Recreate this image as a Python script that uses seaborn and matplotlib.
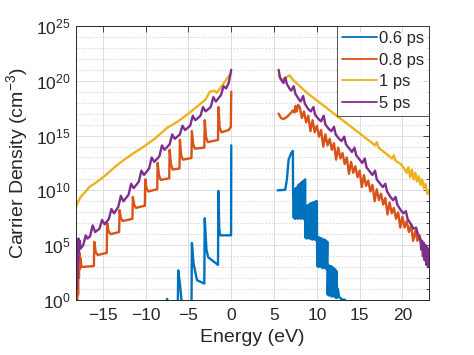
import numpy as np
import pandas as pd
import matplotlib
matplotlib.use("Agg")
import matplotlib.pyplot as plt
import seaborn as sns
from matplotlib.ticker import FixedLocator, NullFormatter

# delays and MATLAB-like colours
delays = ["0.6 ps", "0.8 ps", "1 ps", "5 ps"]
colors = ["#0072BD", "#D95319", "#EDB120", "#7E2F8E"]

# values: energy (eV) and log10 of carrier density (cm^-3)
blue_left_x = [-7.6, -7.5, -7.4, -6.25, -6.2, -6.0, -5.7, -4.65, -4.6, -4.4, -4.0, -3.15,
               -3.1, -2.9, -2.7, -1.55, -1.5, -1.4, -1.3, -0.02, 0.0]
blue_left_log = [-1, 0.1, -1, -1, 2.7, 1.5, -1, -1, 5.2, 3.3, 1.8, 1.5,
                 7.45, 4.6, 3.9, 3.2, 9.95, 6.5, 5.9, 5.9, 14.1]

blue_right_x = [5.42, 6.3, 6.5, 6.7, 7.0, 7.2, 7.22,
                7.3, 7.38, 7.46, 7.54, 7.62, 7.7, 7.78, 7.86, 7.94, 8.02, 8.1, 8.18, 8.26, 8.34, 8.42, 8.5, 8.58, 8.62,
                8.66, 8.74, 8.82, 8.9, 8.98, 9.06, 9.14, 9.22, 9.3, 9.38, 9.46, 9.54, 9.62, 9.7, 9.78, 9.86, 9.94, 10.0,
                10.04, 10.12, 10.2, 10.28, 10.36, 10.44, 10.52, 10.6, 10.68, 10.76, 10.84, 10.92, 11.0, 11.08, 11.16, 11.22,
                11.26, 11.34, 11.42, 11.5, 11.58, 11.66, 11.74, 11.82, 11.9, 11.98, 12.06, 12.14, 12.22, 12.3, 12.38,
                12.45, 12.6, 12.9, 13.3, 13.4]
blue_right_log = [10.0, 10.05, 11.0, 12.8, 13.4, 13.6, 10.0,
                  7.5, 10.1, 7.4, 10.2, 7.5, 10.3, 7.4, 10.5, 7.5, 10.6, 7.4, 10.7, 7.5, 10.8, 7.4, 10.9, 7.3, 11.0,
                  5.7, 8.6, 5.6, 8.6, 5.7, 8.7, 5.6, 8.8, 5.6, 8.8, 5.5, 8.9, 5.6, 8.9, 5.5, 9.0, 5.5, 9.0,
                  3.1, 5.7, 3.0, 5.7, 3.1, 5.6, 3.0, 5.6, 2.9, 5.5, 3.0, 5.5, 2.9, 5.4, 2.8, 5.3,
                  0.5, 3.2, 0.4, 3.1, 0.5, 3.1, 0.3, 3.0, 0.4, 2.9, 0.3, 2.8, 0.2, 2.6, 0.2,
                  1.0, 0.3, 0.05, 0.02, -1]

orange_left_x = [-18.0, -17.95, -17.9, -17.85, -17.8, -17.75, -17.7, -17.6, -17.5, -16.05,
                 -16.0, -15.85, -15.6, -14.55,
                 -14.5, -14.35, -14.1, -13.1,
                 -13.05, -12.9, -12.7, -11.55,
                 -11.5, -11.35, -11.15, -10.1,
                 -10.05, -9.9, -9.7, -8.65,
                 -8.6, -8.45, -8.25, -7.25,
                 -7.2, -7.05, -6.85, -6.05,
                 -6.0, -5.85, -5.65, -4.65,
                 -4.6, -4.45, -4.25, -3.15,
                 -3.1, -2.95, -2.75, -1.55,
                 -1.5, -1.35, -1.15, -0.3, -0.05, 0.0]
orange_left_log = [-1, 3.5, 0.5, 4.0, 2.0, 4.3, 2.8, 3.8, 3.0, 3.1,
                   5.3, 4.4, 4.1, 4.3,
                   7.0, 6.3, 6.0, 6.2,
                   8.2, 7.5, 7.2, 7.4,
                   9.4, 8.7, 8.4, 8.6,
                   11.0, 10.2, 9.9, 10.1,
                   12.5, 11.4, 10.95, 11.1,
                   13.7, 12.4, 11.9, 12.0,
                   14.6, 13.2, 12.8, 12.95,
                   15.4, 14.2, 13.8, 13.9,
                   16.4, 14.9, 14.4, 14.6,
                   17.6, 15.7, 15.3, 15.5, 15.8, 19.0]

orange_right_x = [5.53, 5.8, 6.1, 6.5, 6.9, 7.2, 7.4, 7.5, 7.65, 7.8,
                  8.0, 8.25, 8.5, 8.75, 9.0, 9.25, 9.5, 9.75, 10.0, 10.25, 10.5, 10.75,
                  11.0, 11.25, 11.5, 11.75, 12.0, 12.25, 12.5, 12.75, 13.0, 13.25, 13.5, 13.75,
                  14.0, 14.25, 14.5, 14.75, 15.0, 15.25, 15.5, 15.75, 16.0, 16.25, 16.5, 16.75,
                  17.0, 17.25, 17.5, 17.75, 18.0, 18.25, 18.5, 18.75, 19.0, 19.25, 19.5, 19.75,
                  20.0, 20.25, 20.5, 20.75, 21.0, 21.25, 21.5, 21.75, 22.0, 22.25, 22.5]
orange_right_log = [17.0, 16.6, 16.5, 16.7, 17.0, 17.3, 17.1, 17.7, 17.2, 17.8,
                    17.6, 16.6, 17.2, 16.2, 16.8, 15.4, 16.4, 15.3, 15.9, 14.9, 15.5, 14.0,
                    15.1, 14.1, 14.7, 13.7, 14.3, 12.8, 13.9, 12.9, 13.4, 12.4, 13.0, 11.5,
                    12.6, 11.6, 12.2, 11.2, 11.8, 10.3, 11.4, 10.4, 10.9, 9.9, 10.5, 9.0,
                    10.1, 9.1, 9.7, 8.7, 9.3, 7.8, 8.9, 7.9, 8.4, 7.4, 8.0, 6.6,
                    7.6, 6.6, 7.2, 6.2, 6.8, 5.4, 6.3, 5.4, 5.9, 5.0, 5.2]

yellow_left_x = [-18.2, -18.0, -17.6, -17.0, -16.6, -16.0, -15.3, -14.5, -13.5, -12.5, -11.4,
                 -10.2, -8.8, -7.5, -6.2, -5.0, -3.6, -3.0, -2.5, -2.0, -1.7, -1.2, -0.5, 0.0]
yellow_left_log = [8.2, 8.8, 9.4, 9.9, 10.3, 10.6, 11.0, 11.5, 12.2, 12.8, 13.4,
                   14.0, 14.8, 15.7, 16.3, 17.0, 17.9, 18.3, 19.0, 19.1, 18.9, 19.4, 20.2, 20.7]

yellow_right_x = [5.53, 5.8, 6.3, 6.8, 7.2, 8.0, 9.0, 10.0, 11.0, 12.0, 13.0, 14.0, 15.0, 16.0,
                  16.8, 17.0, 17.2, 18.0, 18.8, 19.0, 19.2, 19.8, 20.2, 20.5, 20.7, 20.9, 21.1,
                  21.3, 21.5, 21.7, 21.9, 22.1, 22.3, 22.5, 22.7, 22.9, 23.1, 23.3]
yellow_right_log = [20.5, 20.1, 20.2, 20.5, 20.1, 19.5, 18.8, 18.2, 17.6, 17.0, 16.4, 15.8, 15.2, 14.6,
                    14.1, 14.4, 13.9, 13.4, 12.9, 13.2, 12.7, 12.4, 12.0, 11.6, 12.1, 11.2, 11.9,
                    11.0, 11.6, 10.8, 11.3, 10.5, 11.0, 10.2, 10.6, 9.7, 10.0, 9.1]

purple_left_x = [-18.2, -18.15, -18.1, -18.05, -18.0, -17.95, -17.9, -17.85, -17.8, -17.7, -17.6,
                 -17.3, -17.0, -16.8, -16.5, -16.2, -15.9, -15.4, -15.1, -14.8, -14.3, -14.0, -13.7,
                 -13.2, -12.9, -12.6, -12.0, -11.7, -11.4, -10.8, -10.5, -10.2, -9.6, -9.3, -9.0,
                 -8.4, -8.1, -7.8, -7.2, -6.9, -6.6, -6.0, -5.7, -5.4, -4.8, -4.5, -4.2,
                 -3.6, -3.3, -3.0, -2.4, -2.1, -1.8, -1.2, -0.9, -0.6, -0.3, 0.0]
purple_left_log = [-1, 4.5, 1.0, 5.2, 2.0, 5.5, 3.5, 5.6, 4.4, 5.4, 4.7,
                   5.0, 5.9, 5.6, 5.8, 6.8, 6.2, 6.5, 7.3, 6.9, 7.4, 8.3, 7.9,
                   8.5, 9.5, 9.0, 9.6, 10.6, 10.2, 10.8, 11.8, 11.4, 12.0, 13.0, 12.6,
                   13.1, 14.1, 13.7, 14.2, 15.1, 14.7, 15.1, 15.9, 15.5, 15.9, 16.8, 16.4,
                   16.8, 17.6, 17.2, 17.6, 18.5, 18.1, 18.7, 19.5, 19.3, 19.8, 21.0]

purple_right_x = [5.53, 5.7, 5.9, 6.1, 6.3, 6.5, 6.8, 7.0, 7.3, 7.5, 7.9, 8.1, 8.4, 8.6, 9.0, 9.3,
                  9.6, 9.8, 10.2, 10.5, 10.8, 11.0, 11.4, 11.7, 12.0, 12.2, 12.6, 12.9, 13.2, 13.4,
                  13.8, 14.1, 14.4, 14.6, 15.0, 15.3, 15.6, 15.8, 16.2, 16.5, 16.8, 17.0, 17.4, 17.7,
                  18.0, 18.2, 18.6, 18.9, 19.2, 19.4, 19.8, 20.1, 20.4, 20.6, 21.0, 21.3, 21.6, 21.8,
                  22.1, 22.2, 22.3, 22.4, 22.5, 22.6, 22.7, 22.8, 22.9, 23.0, 23.1, 23.2, 23.3]
purple_right_log = [21.0, 20.3, 20.0, 19.8, 20.3, 19.7, 19.3, 19.1, 19.5, 18.8, 18.3, 18.1, 18.6, 17.9, 17.4, 17.2,
                    17.6, 16.9, 16.5, 16.3, 16.8, 16.0, 15.6, 15.4, 15.8, 15.1, 14.7, 14.5, 14.9, 14.2,
                    13.8, 13.5, 13.9, 13.2, 12.8, 12.5, 12.9, 12.1, 11.7, 11.4, 11.8, 11.0, 10.6, 10.3,
                    10.6, 9.9, 9.4, 9.1, 9.4, 8.7, 8.2, 7.9, 8.1, 7.4, 6.9, 6.5, 6.6, 6.0,
                    5.5, 4.6, 5.4, 4.0, 5.2, 3.6, 5.0, 3.2, 4.8, 3.0, 4.5, 3.2, 4.3]

series = [
    ("0.6 ps", "left", blue_left_x, blue_left_log),
    ("0.6 ps", "right", blue_right_x, blue_right_log),
    ("0.8 ps", "left", orange_left_x, orange_left_log),
    ("0.8 ps", "right", orange_right_x, orange_right_log),
    ("1 ps", "left", yellow_left_x, yellow_left_log),
    ("1 ps", "right", yellow_right_x, yellow_right_log),
    ("5 ps", "left", purple_left_x, purple_left_log),
    ("5 ps", "right", purple_right_x, purple_right_log),
]

frames = []
for delay, branch, xs, logs in series:
    frames.append(pd.DataFrame({
        "energy": xs,
        "density": 10.0 ** np.array(logs),
        "delay": delay,
        "branch": branch,
    }))
df = pd.concat(frames, ignore_index=True)

sns.set_theme(style="white")
plt.rcParams["font.family"] = ["Liberation Sans", "DejaVu Sans"]
plt.rcParams["mathtext.fontset"] = "custom"
plt.rcParams["mathtext.rm"] = "Liberation Sans"

fig = plt.figure(figsize=(4.74, 3.55), dpi=100)
ax = fig.add_axes([0.160, 0.155, 0.745, 0.772])

sns.lineplot(data=df, x="energy", y="density", hue="delay", hue_order=delays,
             units="branch", estimator=None, sort=False, palette=colors,
             linewidth=1.7, ax=ax)

ax.set_yscale("log")
ax.set_ylim(1, 1e25)
ax.set_xlim(-18.16, 23.1)
ax.set_xticks([-15, -10, -5, 0, 5, 10, 15, 20])
ax.set_yticks([10.0 ** k for k in range(0, 26, 5)])
ax.yaxis.set_minor_locator(FixedLocator([10.0 ** k for k in range(26)]))
ax.yaxis.set_minor_formatter(NullFormatter())

ax.grid(which="major", color="#dedede", linewidth=0.7, linestyle="-")
ax.grid(which="minor", axis="y", color="#c8c8c8", linewidth=0.7, linestyle=(0, (1, 2)))
ax.set_axisbelow(True)

for sp in ax.spines.values():
    sp.set_color("#262626")
    sp.set_linewidth(0.7)
ax.tick_params(which="both", direction="in", top=True, right=True, colors="#262626",
               labelsize=12.5, width=0.6)
ax.tick_params(which="major", length=4)
ax.tick_params(which="minor", length=2.5)
ax.tick_params(axis="x", pad=6)

ax.set_xlabel("Energy (eV)", fontsize=14, color="#262626")
ax.set_ylabel("Carrier Density (cm$^{-3}$)", fontsize=14, color="#262626")

handles, labels = ax.get_legend_handles_labels()
for h in handles:
    h.set_linewidth(1.3)
leg = ax.legend(handles, labels, loc="upper right", fontsize=12, frameon=True,
                fancybox=False, borderaxespad=0, handlelength=2.1, handletextpad=0.12,
                labelspacing=0.4, borderpad=0.3)
leg.get_frame().set_edgecolor("#262626")
leg.get_frame().set_linewidth(0.7)

fig.savefig("out.png", dpi=100)
